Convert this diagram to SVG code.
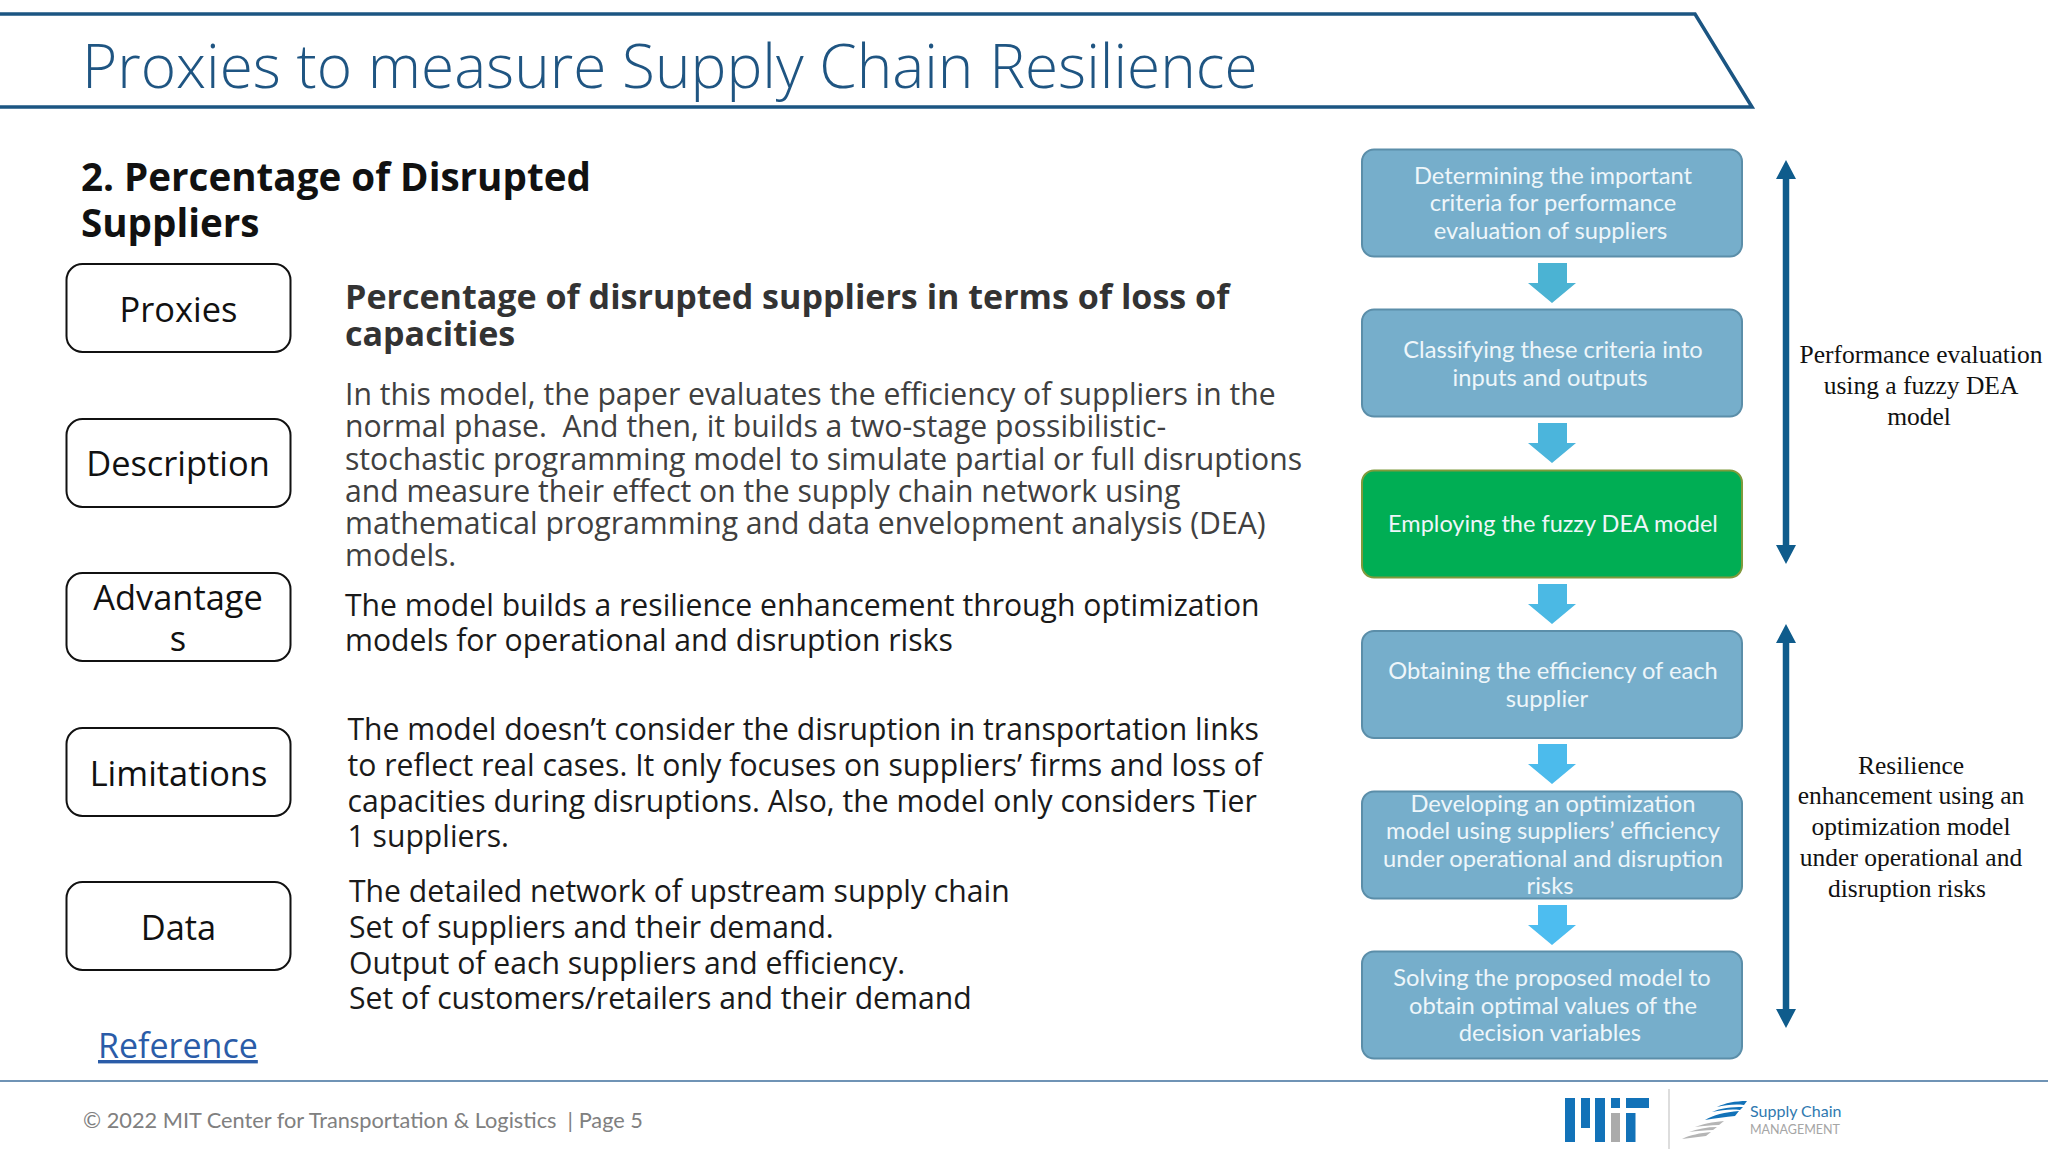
<svg xmlns="http://www.w3.org/2000/svg" width="2048" height="1152" viewBox="0 0 2048 1152">
<style>
text{font-family:"Open Sans","Noto Sans",sans-serif;white-space:pre}
.lbl{font-size:34.400px;fill:#111;text-anchor:middle}
.body{font-size:30.150px;fill:#1a1a1a}
.mid{fill:#404040}
.hd{font-size:34.050px;font-weight:700;fill:#333}
.sub{font-size:38.600px;font-weight:700;fill:#111}
.bt{font-family:Lato,"Open Sans",sans-serif;font-size:23.700px;fill:#eef6fa;text-anchor:middle}
.side{font-family:"Liberation Serif",serif;font-size:25.500px;fill:#111;text-anchor:middle}
.pill{fill:#fff;stroke:#111;stroke-width:2}
.step{fill:#76aecb;stroke:#5b8ea9;stroke-width:2}
.green{fill:#00ae54;stroke:#7f9a3c;stroke-width:2}
.mit{fill:#1272b8}
</style>
<path id="title-frame" d="M0 14H1695L1752 107H0" fill="#fff" stroke="#1b5582" stroke-width="3.500"/>
<text x="82" y="88" style="font-size:60.300px;font-weight:300;fill:#1f5582">Proxies to measure Supply Chain Resilience</text>
<text class="sub" x="81" y="191">2. Percentage of Disrupted</text>
<text class="sub" x="81" y="237">Suppliers</text>
<g id="n-proxies"><rect class="pill" x="66.500" y="264" width="224" height="88" rx="16"/><text class="lbl" x="178.500" y="322">Proxies</text></g>
<g id="n-description"><rect class="pill" x="66.500" y="419" width="224" height="88" rx="16"/><text class="lbl" x="178" y="476">Description</text></g>
<g id="n-advantages"><rect class="pill" x="66.500" y="573" width="224" height="88" rx="16"/><text class="lbl" x="178" y="610">Advantage</text><text class="lbl" x="178" y="651">s</text></g>
<g id="n-limitations"><rect class="pill" x="66.500" y="728" width="224" height="88" rx="16"/><text class="lbl" x="178.500" y="785.500">Limitations</text></g>
<g id="n-data"><rect class="pill" x="66.500" y="882" width="224" height="88" rx="16"/><text class="lbl" x="178.500" y="940">Data</text></g>
<text class="hd" x="345" y="309">Percentage of disrupted suppliers in terms of loss of</text>
<text class="hd" x="345" y="346">capacities</text>
<text class="body mid" x="345" y="405">In this model, the paper evaluates the efficiency of suppliers in the</text>
<text class="body mid" x="345" y="437">normal phase.  And then, it builds a two-stage possibilistic-</text>
<text class="body mid" x="345" y="469.500">stochastic programming model to simulate partial or full disruptions</text>
<text class="body mid" x="345" y="501.500">and measure their effect on the supply chain network using</text>
<text class="body mid" x="345" y="533.500">mathematical programming and data envelopment analysis (DEA)</text>
<text class="body mid" x="345" y="565.500">models.</text>
<text class="body" x="345" y="615.500">The model builds a resilience enhancement through optimization</text>
<text class="body" x="345" y="651">models for operational and disruption risks</text>
<text class="body" x="347.500" y="739.500">The model doesn’t consider the disruption in transportation links</text>
<text class="body" x="347.500" y="775.500">to reflect real cases. It only focuses on suppliers’ firms and loss of</text>
<text class="body" x="347.500" y="811.500">capacities during disruptions. Also, the model only considers Tier</text>
<text class="body" x="347.500" y="847">1 suppliers.</text>
<text class="body" x="349" y="901.500">The detailed network of upstream supply chain</text>
<text class="body" x="349" y="937.500">Set of suppliers and their demand.</text>
<text class="body" x="349" y="973.500">Output of each suppliers and efficiency.</text>
<text class="body" x="349" y="1008.500">Set of customers/retailers and their demand</text>
<text x="98" y="1058" text-decoration="underline" style="font-size:34px;fill:#2a5ca8">Reference</text>
<g id="n-s1"><rect class="step" x="1362" y="149.500" width="380" height="107" rx="12"/><text class="bt" x="1553" y="184">Determining the important</text><text class="bt" x="1553" y="211">criteria for performance</text><text class="bt" x="1550.500" y="239">evaluation of suppliers</text></g>
<g id="n-s2"><rect class="step" x="1362" y="309.500" width="380" height="107" rx="12"/><text class="bt" x="1553" y="358">Classifying these criteria into</text><text class="bt" x="1550" y="386">inputs and outputs</text></g>
<g id="n-s3"><rect class="green" x="1362" y="470.500" width="380" height="107" rx="12"/><text class="bt" x="1553" y="532" style="font-size:23.500px">Employing the fuzzy DEA model</text></g>
<g id="n-s4"><rect class="step" x="1362" y="631" width="380" height="107" rx="12"/><text class="bt" x="1553" y="678.500">Obtaining the efficiency of each</text><text class="bt" x="1547" y="706.500">supplier</text></g>
<g id="n-s5"><rect class="step" x="1362" y="791.500" width="380" height="107" rx="12"/><text class="bt" x="1553" y="811.500">Developing an optimization</text><text class="bt" x="1553" y="839">model using suppliers’ efficiency</text><text class="bt" x="1553" y="866.500">under operational and disruption</text><text class="bt" x="1550" y="894">risks</text></g>
<g id="n-s6"><rect class="step" x="1362" y="951.500" width="380" height="107" rx="12"/><text class="bt" x="1552" y="986">Solving the proposed model to</text><text class="bt" x="1553" y="1014">obtain optimal values of the</text><text class="bt" x="1550" y="1041">decision variables</text></g>
<g id="connectors">
<path fill="#4bb3d3" d="M1538 263H1567V283H1576L1552 303L1528 283H1538Z"/>
<path fill="#4bb5dc" d="M1538 423H1567V443H1576L1552 463L1528 443H1538Z"/>
<path fill="#4bb9e4" d="M1538 584H1567V604H1576L1552 624L1528 604H1538Z"/>
<path fill="#4cbbec" d="M1538 744H1567V764H1576L1552 784L1528 764H1538Z"/>
<path fill="#4dbdf0" d="M1538 905H1567V925H1576L1552 945L1528 925H1538Z"/>
<line x1="1786" y1="176" x2="1786" y2="548" stroke="#0f5c8c" stroke-width="6.500"/>
<path d="M1786 160L1796 179H1776Z M1786 564L1796 545H1776Z" fill="#0f5c8c"/>
<line x1="1786" y1="640" x2="1786" y2="1012" stroke="#0f5c8c" stroke-width="6.500"/>
<path d="M1786 624L1796 643H1776Z M1786 1028L1796 1009H1776Z" fill="#0f5c8c"/>
</g>
<text class="side" x="1921" y="363">Performance evaluation</text><text class="side" x="1921" y="394">using a fuzzy DEA</text><text class="side" x="1919" y="425">model</text>
<text class="side" x="1911" y="774">Resilience</text><text class="side" x="1911" y="804">enhancement using an</text><text class="side" x="1911" y="835">optimization model</text><text class="side" x="1911" y="866">under operational and</text><text class="side" x="1907" y="897">disruption risks</text>
<line x1="0" y1="1081" x2="2048" y2="1081" stroke="#3f6f9c" stroke-width="1.500"/>
<text x="83" y="1128" style="font-family:Lato,sans-serif;font-size:21.750px;fill:#808080">© 2022 MIT Center for Transportation &amp; Logistics  | Page 5</text>
<g id="logo">
<path class="mit" d="M1565 1098h10v44h-10zM1581 1098h9v30h-9zM1595 1098h10v44h-10zM1611 1098h9v10h-9zM1626 1098h23v10h-23zM1626 1113h9.500v29h-9.500z"/>
<rect x="1611" y="1113" width="9" height="29" fill="#ababab"/>
<line x1="1669" y1="1089" x2="1669" y2="1149" stroke="#bbb" stroke-width="1"/>
<path fill="#1272b8" d="M1717 1107C1725 1103 1735 1101 1747 1101L1744 1105C1735 1104 1725 1105 1717 1107ZM1712 1112C1720 1108 1732 1107 1743 1107L1740 1110C1731 1109 1722 1110 1712 1112ZM1705 1120C1713 1115 1725 1112 1739 1111L1735 1116C1726 1117 1715 1118 1705 1120Z"/>
<path fill="#b5b5b5" d="M1695 1127C1703 1124 1712 1122 1724 1121L1719 1125C1711 1125 1703 1126 1695 1127ZM1689 1132C1697 1129 1707 1127 1717 1127L1713 1130C1706 1130 1697 1131 1689 1132ZM1682 1139C1690 1135 1700 1133 1711 1132L1706 1136C1698 1137 1690 1138 1682 1139Z"/>
<text x="1750" y="1116.500" style="font-family:Lato,sans-serif;font-size:16px;fill:#2f79b0">Supply Chain</text>
<text x="1750" y="1134" style="font-family:Lato,sans-serif;font-size:12.500px;fill:#a5a5a5">MANAGEMENT</text>
</g>
</svg>
